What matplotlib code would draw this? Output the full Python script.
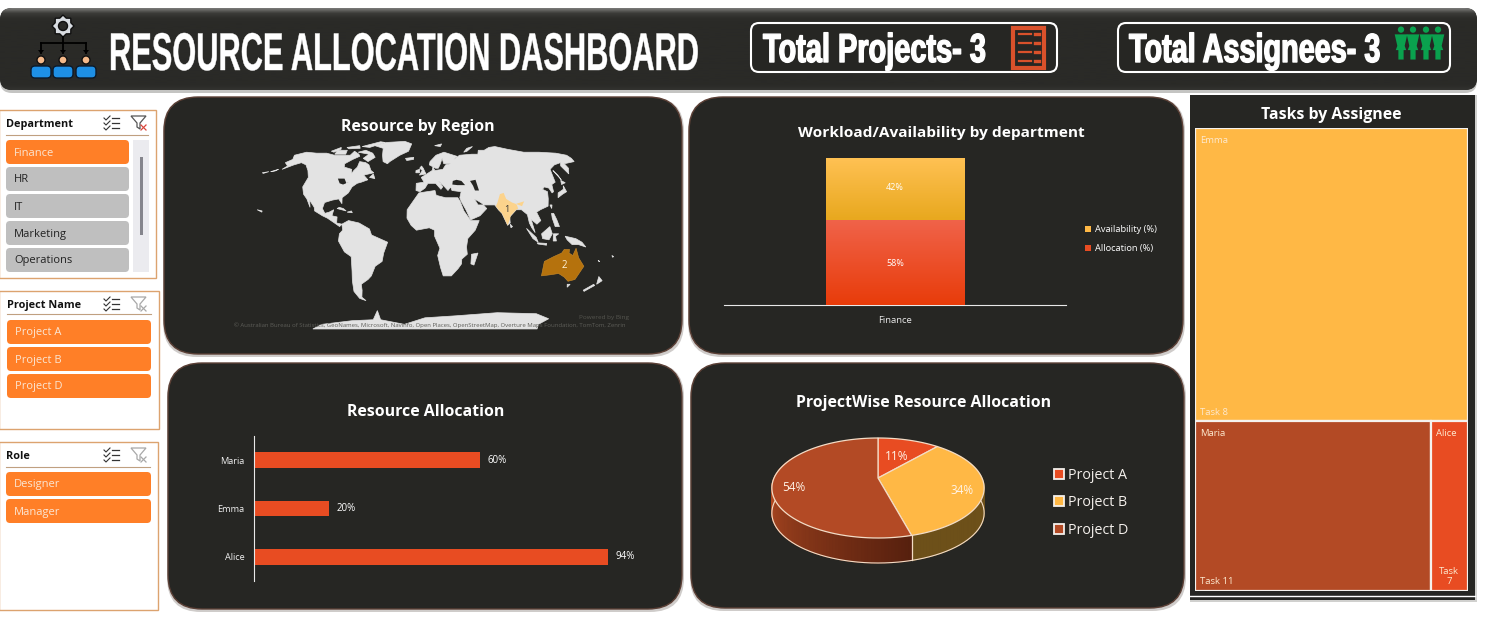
"""
Resource allocation dashboard, rebuilt as one matplotlib figure.
"""
import numpy as np
import matplotlib
matplotlib.use('Agg')
import matplotlib.pyplot as plt
from matplotlib.collections import PolyCollection
from matplotlib.colors import LinearSegmentedColormap, to_rgb
from matplotlib.lines import Line2D
from matplotlib.patches import FancyBboxPatch, Polygon, Rectangle, Circle
from matplotlib.patheffects import AbstractPathEffect
from matplotlib.transforms import Affine2D

W, H = 1486, 617
PANEL = '#262623'
ORANGE = '#ff7f27'
RED = '#e84c22'
GOLD = '#ffb845'
BROWN = '#b34a25'
SLICER_EDGE = '#dca36f'
BODY_FONT = 'Open Sans'
BIG_FONT = 'Liberation Sans'

departments = ['Finance', 'HR', 'IT', 'Marketing', 'Operations']
project_names = ['Project A', 'Project B', 'Project D']
roles = ['Designer', 'Manager']

finance_allocation = [58]
finance_availability = [42]

alloc_people = ['Maria', 'Emma', 'Alice']
alloc_values = [60, 20, 94]

pie_labels = ['Project A', 'Project B', 'Project D']
pie_values = [11.4, 34.4, 54.2]
pie_colors = [RED, GOLD, BROWN]

tree_people = ['Emma', 'Maria', 'Alice']
tree_tasks = ['Task 8', 'Task 11', 'Task\n7']
tree_values = [63.4, 31.7, 4.9]
tree_colors = [GOLD, BROWN, RED]

# map outlines, lon/lat
north_america = [(-166, 68), (-156, 71), (-141, 70), (-128, 70), (-115, 68), (-108, 68), (-95, 68), (-94, 72),
                 (-85, 69), (-82, 67), (-88, 64), (-94, 60), (-92, 57), (-82, 55), (-80, 51), (-79, 54), (-77, 57),
                 (-78, 62), (-70, 61), (-65, 59), (-60, 54), (-56, 52), (-66, 50), (-60, 46), (-66, 44), (-70, 43),
                 (-74, 40), (-76, 35), (-81, 31), (-80, 26), (-82, 28), (-84, 30), (-90, 29), (-97, 27), (-98, 22),
                 (-95, 18), (-91, 19), (-87, 21), (-88, 16), (-83, 15), (-83, 10), (-78, 9), (-80, 7), (-85, 10),
                 (-92, 14), (-97, 16), (-105, 20), (-106, 23), (-112, 29), (-110, 23), (-115, 30), (-120, 34),
                 (-124, 40), (-124, 48), (-130, 54), (-138, 59), (-146, 61), (-152, 59), (-160, 55), (-158, 58),
                 (-165, 61), (-161, 64)]
south_america = [(-78, 9), (-72, 12), (-62, 10), (-52, 5), (-50, 0), (-35, -6), (-39, -15), (-41, -22), (-48, -26),
                 (-53, -34), (-57, -37), (-65, -41), (-66, -46), (-69, -52), (-66, -55), (-72, -53), (-75, -47),
                 (-73, -38), (-71, -30), (-70, -18), (-76, -14), (-81, -5), (-80, 1), (-77, 4)]
greenland = [(-73, 78), (-60, 82), (-32, 83.5), (-20, 80), (-22, 72), (-32, 68), (-42, 62), (-44, 60), (-50, 62),
             (-54, 68), (-58, 75)]
eurasia = [(-9, 37), (-9, 43), (-1, 44), (-4, 48), (2, 51), (8, 54), (9, 57), (11, 54), (20, 55), (24, 59), (30, 60),
           (22, 60), (21, 65), (18, 60), (15, 56), (12, 56), (5, 59), (6, 62), (14, 68), (25, 71), (40, 67), (35, 64),
           (44, 68), (60, 69), (68, 69), (72, 73), (80, 73), (90, 76), (100, 77), (113, 74), (130, 71), (150, 71),
           (170, 70), (180, 68), (180, 65), (178, 62), (163, 60), (162, 56), (156, 51), (156, 58), (160, 61), (150, 59),
           (140, 55), (135, 44), (130, 42), (128, 36), (126, 35), (125, 39), (121, 40), (118, 38), (122, 36),
           (120, 30), (118, 24), (110, 21), (106, 19), (109, 12), (105, 9), (100, 13), (103, 2), (100, 6), (98, 10),
           (97, 17), (92, 21), (87, 21), (80, 15), (80, 10), (77.5, 8), (73, 18), (70, 21), (67, 25), (57, 25),
           (52, 28), (48, 30), (51, 25), (56, 25), (59, 22), (52, 16), (43, 12.6), (39, 21), (35, 28), (34, 31),
           (36, 36), (27, 37), (26, 40), (23, 37), (20, 40), (14, 45), (18, 40), (16, 38), (11, 43), (3, 43),
           (0, 39), (-5, 36)]
africa = [(-6, 35), (10, 37), (11, 33), (20, 31), (32, 31), (34, 28), (37, 20), (43, 12), (51, 12), (47, 4), (40, -3),
          (39, -10), (40, -16), (35, -20), (35, -24), (32, -28), (26, -34), (18, -34), (15, -27), (12, -17), (14, -11),
          (9, -1), (9, 4), (4, 6), (-8, 4), (-13, 8), (-17, 14), (-17, 21), (-10, 30)]
australia = [(114, -22), (122, -18), (129, -15), (131, -12), (136, -12), (136, -15), (140, -17), (142, -11), (146, -19),
             (153, -26), (150, -37), (144, -38.5), (138, -35), (131, -32), (124, -33), (115, -34)]
india = [(68, 24), (70, 21), (73, 18), (77.5, 8), (80, 13), (81, 16), (87, 21), (89, 22), (88, 26), (96, 28), (93, 24),
         (84, 27), (79, 30), (78, 35), (74, 34), (70, 27)]
antarctica = [(-180, -84), (-150, -78), (-100, -74), (-70, -73), (-58, -64), (-60, -73), (-30, -78), (0, -71), (40, -69),
              (90, -66), (140, -67), (165, -72), (165, -78), (180, -84)]
islands = [
    [(-80, 73), (-68, 70), (-62, 66), (-68, 62), (-76, 65), (-72, 69), (-88, 71)],  # baffin
    [(-90, 77), (-70, 83), (-62, 82), (-78, 76)],  # ellesmere
    [(-118, 73), (-105, 73), (-102, 69), (-116, 69)],  # victoria
    [(-125, 72), (-118, 76), (-115, 74), (-120, 71)],  # banks
    [(-110, 76), (-95, 78), (-90, 75), (-105, 74.5)],  # parry
    [(-59, 48), (-53, 47), (-56, 51)],  # newfoundland
    [(-84, 22), (-75, 20), (-78, 22), (-82, 23)],  # cuba
    [(-74, 19), (-69, 18.5), (-70, 20)],  # hispaniola
    [(-6, 50), (1, 51), (-2, 56), (-4, 58), (-6, 56), (-3, 54)],  # britain
    [(-10, 52), (-6, 52), (-6, 55), (-10, 54)],  # ireland
    [(-24, 65), (-14, 66), (-14, 64), (-22, 63)],  # iceland
    [(14, 78), (25, 80), (22, 77)],  # svalbard
    [(44, -16), (50, -15), (47, -25), (44, -24)],  # madagascar
    [(80, 9), (82, 7), (80.5, 6)],  # sri lanka
    [(130, 31), (136, 34), (141, 36), (141, 41), (139, 38), (132, 35)],  # honshu
    [(140, 42), (145, 43.5), (142, 45.5)],  # hokkaido
    [(95, 5.5), (104, -2), (106, -6), (101, -3)],  # sumatra
    [(109, 1), (117, 7), (119, 1), (116, -4), (110, -3)],  # borneo
    [(105, -6.5), (114, -7), (114, -8.5), (106, -7.5)],  # java
    [(120, 1), (125, 1), (122, -1), (123, -5), (120, -5)],  # sulawesi
    [(131, -1), (141, -3), (147, -6), (151, -10), (144, -8), (138, -8), (133, -4)],  # new guinea
    [(120, 18), (122, 18), (124, 13), (126, 7), (122, 7), (120, 14)],  # philippines
    [(145, -41), (148, -41), (147, -43.5)],  # tasmania
    [(172, -34.5), (178, -38), (175, -41)],  # nz north
    [(172, -41), (174, -42), (168, -47), (166, -46)],  # nz south
    [(120, 25), (122, 25), (121, 22)],  # taiwan
    [(51, 71), (58, 75), (68, 77), (56, 72)],  # novaya zemlya
    [(-160, 21), (-155, 20), (-155, 19)],  # hawaii
    [(142, 54), (143, 50), (143, 46)],  # sakhalin
    [(-178, 52), (-172, 53), (-176, 51.5)],  # aleutians
    [(-170, 53), (-164, 55), (-166, 53.5)],
    [(165, -21), (167, -22), (166, -22)],  # new caledonia
    [(177, -17), (179, -18), (178, -18.5)],  # fiji
]
inland_seas = [
    [(28, 42), (33, 41.5), (41, 41.5), (38, 45), (33, 46), (29, 45)],  # black sea
    [(47, 45), (53, 46), (54, 37), (50, 37), (49, 41)],  # caspian
    [(-92, 47), (-85, 47), (-81, 43), (-79, 44), (-84, 42), (-88, 43)],  # great lakes
]

# robinson table
rob_lat = np.arange(0, 95, 5)
rob_len = [1, .9986, .9954, .99, .9822, .973, .96, .9427, .9216, .8962, .8679, .835, .7986, .7597, .7186, .6732, .6213, .5722, .5322]
rob_y = [0, .062, .124, .186, .248, .31, .372, .434, .4958, .5571, .6176, .6769, .7346, .7903, .8435, .8936, .9394, .9761, 1]


def robinson(points):
    pts = np.array(points, dtype=float)
    lat = np.abs(pts[:, 1])
    xs = pts[:, 0] / 180 * np.interp(lat, rob_lat, rob_len)
    ys = np.sign(pts[:, 1]) * np.interp(lat, rob_lat, rob_y)
    return np.column_stack([xs, ys])


class StretchY(AbstractPathEffect):
    # no condensed font installed, so a wider one is set small and pulled up from the baseline
    def __init__(self, sy, stroke):
        super().__init__()
        self.sy = sy
        self.stroke = stroke

    def draw_path(self, renderer, gc, tpath, affine, rgbFace=None):
        gc0 = renderer.new_gc()
        gc0.copy_properties(gc)
        gc0.set_linewidth(self.stroke)
        gc0.set_foreground('white')
        renderer.draw_path(gc0, tpath, Affine2D().scale(1, self.sy) + affine, rgbFace)
        gc0.restore()


def poster_text(s, x, baseline, width, cap, stroke):
    t = bg.text(x, baseline, s, fontsize=20, fontweight='bold', color='white', va='baseline', family=BIG_FONT, zorder=6)
    got = t.get_window_extent(fig.canvas.get_renderer()).width
    size = 20 * width / got
    t.set_fontsize(size)
    t.set_path_effects([StretchY(cap / (0.716 * size * 100 / 72), stroke)])
    return t


def px_axes(x0, y0, x1, y1):
    a = fig.add_axes([x0 / W, 1 - y1 / H, (x1 - x0) / W, (y1 - y0) / H], zorder=2)
    a.patch.set_alpha(0)
    return a


def rbox(x0, y0, x1, y1, r, **kw):
    patch = FancyBboxPatch((x0 + r, y0 + r), x1 - x0 - 2 * r, y1 - y0 - 2 * r, boxstyle='round,pad=%s,rounding_size=%s' % (r, r), **kw)
    bg.add_patch(patch)
    return patch


def gradient(a, patch, extent, colors, zorder):
    cmap = LinearSegmentedColormap.from_list('g', colors)
    xl, yl = a.get_xlim(), a.get_ylim()
    im = a.imshow(np.linspace(0, 1, 200).reshape(-1, 1), extent=extent, aspect='auto', cmap=cmap, zorder=zorder)
    im.set_clip_path(patch)
    a.set_xlim(xl)
    a.set_ylim(yl)


def panel(x0, y0, x1, y1, r=34):
    rbox(x0 - 1, y0, x1 + 2, y1 + 3, r, fc='#cfccca', ec='none', zorder=1)
    rbox(x0, y0, x1, y1, r, fc=PANEL, ec='#5c4036', lw=1, zorder=2)


def checklist(x, y, col='#333333'):
    for i in range(3):
        yy = y + i * 5
        bg.plot([x, x + 2, x + 6], [yy, yy + 2, yy - 2], color=col, lw=0.8, zorder=6)
        bg.plot([x + 8, x + 15], [yy, yy], color=col, lw=0.9, zorder=6)


def funnel(x, y, col, xcol):
    bg.add_patch(Polygon([(x, y), (x + 15, y), (x + 9, y + 7), (x + 9, y + 13), (x + 6, y + 11), (x + 6, y + 7)], fc='white', ec=col, lw=0.9, zorder=6))
    bg.plot([x + 10, x + 15], [y + 9, y + 14], color=xcol, lw=0.9, zorder=6)
    bg.plot([x + 15, x + 10], [y + 9, y + 14], color=xcol, lw=0.9, zorder=6)


def slicer(title, items, box, header_y, first_y, x0, x1, selected, filter_cols):
    bg.add_patch(Rectangle((box[0], box[1]), box[2] - box[0], box[3] - box[1], fc='white', ec=SLICER_EDGE, lw=1, zorder=3))
    bg.text(x0, box[1] + 14.5, title, fontsize=7.8, fontweight='bold', color='#111111', va='center', family=BODY_FONT, zorder=6)
    bg.plot([x0, box[2] - 8], [header_y, header_y], color='#c0a080', lw=0.8, zorder=6)
    checklist(104, box[1] + 8)
    funnel(131, box[1] + 6, filter_cols[0], filter_cols[1])
    for i, name in enumerate(items):
        top = first_y + i * 27
        sel = name in selected
        rbox(x0, top, x1, top + 24, 4, fc=ORANGE if sel else '#bfbfbf', ec='none', zorder=5)
        bg.text(x0 + 8, top + 13, name, fontsize=8, va='center', color='#fbe6d3' if sel else '#222222', family=BODY_FONT, zorder=6)


def person(a, x, y, s, col):
    a.add_patch(Circle((x, y + 2.5 * s), 3 * s, fc=col, ec='none', zorder=6))
    a.add_patch(Polygon([(x - 6 * s, y + 7 * s), (x + 6 * s, y + 7 * s), (x + 3.5 * s, y + 18 * s), (x + 5 * s, y + 22 * s), (x + 2.5 * s, y + 22 * s),
                         (x + 2.5 * s, y + 31 * s), (x - 2.5 * s, y + 31 * s), (x - 2.5 * s, y + 22 * s), (x - 5 * s, y + 22 * s), (x - 3.5 * s, y + 18 * s)],
                        fc=col, ec='none', zorder=6))


fig = plt.figure(figsize=(W / 100, H / 100), dpi=100, facecolor='white')
bg = fig.add_axes([0, 0, 1, 1], zorder=0)
bg.set_xlim(0, W)
bg.set_ylim(H, 0)
bg.axis('off')

# header band
rbox(0, 10, 1477, 93, 12, fc='#c4c4c2', ec='none', zorder=1)
head = rbox(0, 8, 1477, 90, 12, fc='#2a2a27', ec='none', zorder=2)
gradient(bg, head, [0, 1477, 90, 8], ['#7a7a78', '#3c3c39', '#2d2d2a'] + ['#2a2a27'] * 14 + ['#333330'], 3)
poster_text('RESOURCE ALLOCATION DASHBOARD', 109, 70, 589, 38, 0.3)

# header icon
gear = np.linspace(0, 2 * np.pi, 17)[:-1]
bg.add_patch(Polygon([(63 + (11 if i % 2 == 0 else 8.5) * np.cos(t), 26 + (11 if i % 2 == 0 else 8.5) * np.sin(t)) for i, t in enumerate(gear)],
                     fc='#d9dde2', ec='#111111', lw=1, zorder=6))
bg.add_patch(Circle((63, 26), 4.5, fc='#2a2a27', ec='#111111', lw=1, zorder=7))
bg.plot([41, 86], [43, 43], color='black', lw=1.3, zorder=6)
for px in [41, 63, 86]:
    bg.plot([px, px], [37 if px == 63 else 43, 53], color='black', lw=1.3, zorder=6)
    bg.add_patch(Polygon([(px - 3, 50), (px + 3, 50), (px, 54)], fc='black', ec='none', zorder=6))
    bg.add_patch(Circle((px, 60), 4, fc='#f4b98a', ec='#111111', lw=1, zorder=6))
    rbox(px - 10, 66, px + 10, 78, 4, fc='#1e90e6', ec='#0b1a2a', lw=1, zorder=6)

# kpi cards
rbox(751, 23, 1057, 72, 8, fc='#262623', ec='white', lw=1.5, zorder=5)
rbox(1118, 23, 1450, 72, 8, fc='#262623', ec='white', lw=1.5, zorder=5)
poster_text('Total Projects- 3', 763, 62, 223, 29, 1.0)
poster_text('Total Assignees- 3', 1129, 62, 251, 29, 1.0)
bg.add_patch(Rectangle((1013, 28), 31, 40, fc='none', ec='#d9512b', lw=3, zorder=6))
for i in range(4):
    yy = 34 + i * 9
    bg.plot([1019, 1031], [yy, yy], color='#d9512b', lw=1.6, zorder=6)
    bg.plot([1035, 1039], [yy, yy], color='#d9512b', lw=2.4, zorder=6)
for px in [1401, 1413, 1426, 1438]:
    person(bg, px, 27, 1.05, '#0aa14e')

# slicers
slicer('Department', departments, (-1, 110, 156, 278), 135, 140, 6, 129, ['Finance'], ('#555555', '#d9443a'))
bg.add_patch(Rectangle((133, 140), 16, 132, fc='#ebebef', ec='none', zorder=5))
bg.add_patch(Rectangle((140, 157), 2.5, 78, fc='#85858c', ec='none', zorder=6))
slicer('Project Name', project_names, (-1, 291, 159, 429), 314, 320, 7, 151, project_names, ('#a8a8a8', '#a8a8a8'))
slicer('Role', roles, (-1, 442, 158, 610), 467, 472, 6, 151, roles, ('#a8a8a8', '#a8a8a8'))

# chart panels
panel(164, 97, 682, 354)
panel(689, 97, 1183, 354)
panel(168, 363, 682, 609)
panel(691, 363, 1184, 608)
bg.add_patch(Rectangle((1190, 95), 287, 507, fc='#d0d0ce', ec='none', zorder=1))
bg.add_patch(Rectangle((1190, 95), 285, 505, fc=PANEL, ec='none', zorder=2))
bg.plot([1190, 1475], [596, 596], color='white', lw=1, zorder=3)

title_kw = dict(fontsize=11.4, fontweight='bold', color='white', ha='center', va='center', family=BODY_FONT, zorder=6)
bg.text(418, 127, 'Resource by Region', **title_kw)
bg.text(941, 133, 'Workload/Availability by department', fontsize=11.1, fontweight='bold', color='white', ha='center', va='center', family=BODY_FONT, zorder=6)
bg.text(426, 412, 'Resource Allocation', **title_kw)
bg.text(924, 403, 'ProjectWise Resource Allocation', **title_kw)
bg.text(1331, 115, 'Tasks by Assignee', **title_kw)

# map
map_ax = px_axes(232.4, 138, 617.6, 332)
map_ax.set_xlim(-1, 1)
map_ax.set_ylim(-1, 1)
map_ax.axis('off')
LAND = '#e3e3e3'
for shape in [north_america, south_america, greenland, eurasia, africa, antarctica] + islands:
    map_ax.add_patch(Polygon(robinson(shape), fc=LAND, ec=LAND, lw=0.5))
for shape in inland_seas:
    map_ax.add_patch(Polygon(robinson(shape), fc=PANEL, ec='none', zorder=2))
map_ax.add_patch(Polygon(robinson(india), fc='#fcd38c', ec='none', zorder=3))
map_ax.add_patch(Polygon(robinson(australia), fc='#b5720d', ec='#c98a2a', lw=0.4, zorder=3))
lbl = robinson([(78, 21), (134, -25)])
map_ax.text(lbl[0, 0], lbl[0, 1], '1', fontsize=6.5, ha='center', va='center', color='#333333', family=BODY_FONT, zorder=4)
map_ax.text(lbl[1, 0], lbl[1, 1], '2', fontsize=7, ha='center', va='center', color='#fff2d8', family=BODY_FONT, zorder=4)
bg.text(629, 317, 'Powered by Bing', fontsize=4.6, ha='right', va='center', color='#55554f', family=BODY_FONT, zorder=6)
fig.text(430 / W, 1 - 325 / H, '© Australian Bureau of Statistics, GeoNames, Microsoft, Navinfo, Open Places, OpenStreetMap, Overture Maps Foundation, TomTom, Zenrin',
         fontsize=4.33, ha='center', va='center', color='#5d5d58', family=BODY_FONT, zorder=5)

# workload stacked bar
wl = px_axes(724, 158, 1066, 305)
wl.set_xlim(-0.5, 0.5)
wl.set_ylim(0, 100)
b1 = wl.bar(['Finance'], finance_allocation, width=0.404, color=RED, label='Allocation (%)')
b2 = wl.bar(['Finance'], finance_availability, width=0.404, bottom=finance_allocation, color=GOLD, label='Availability (%)')
gradient(wl, b1[0], [-0.202, 0.202, 0, finance_allocation[0]], ['#f0634a', '#e83c0a'], 3)
gradient(wl, b2[0], [-0.202, 0.202, finance_allocation[0], 100], ['#ffc153', '#e8a81e'], 3)
wl.text(0, finance_allocation[0] / 2 - 0.5, '%d%%' % finance_allocation[0], color='white', fontsize=6.5, ha='center', va='center', family=BODY_FONT, zorder=5)
wl.text(0, finance_allocation[0] + finance_availability[0] * 0.48 + 1.5, '%d%%' % finance_availability[0], color='white', fontsize=6.5, ha='center', va='center', family=BODY_FONT, zorder=5)
for s in ['top', 'left', 'right']:
    wl.spines[s].set_visible(False)
wl.spines['bottom'].set_color('#e8e8e8')
wl.set_yticks([])
wl.tick_params(axis='x', length=0, pad=8, labelsize=6.8, colors='#e8e8e8')
for t in wl.get_xticklabels():
    t.set_family(BODY_FONT)
leg = wl.legend(handles=[Rectangle((0, 0), 1, 1, fc=GOLD), Rectangle((0, 0), 1, 1, fc=RED)], labels=['Availability (%)', 'Allocation (%)'],
                loc='center left', bbox_to_anchor=(1085 / W, 1 - 239 / H), bbox_transform=fig.transFigure, frameon=False,
                fontsize=6.7, handlelength=0.65, handleheight=0.65, handletextpad=0.4, labelspacing=1.05, borderpad=0, borderaxespad=0)
for t in leg.get_texts():
    t.set_color('white')
    t.set_family(BODY_FONT)

# allocation bars
ra = px_axes(254, 436, 631, 581)
y_pos = np.arange(len(alloc_people))
ra.barh(y_pos, alloc_values, height=0.33, color=RED)
ra.set_xlim(0, 100)
ra.set_ylim(2.5, -0.5)
ra.set_yticks(y_pos)
ra.set_yticklabels(alloc_people, fontsize=6.6, color='#f0f0f0', family=BODY_FONT)
ra.set_xticks([])
ra.tick_params(axis='y', length=0, pad=7)
for s in ['top', 'bottom', 'right']:
    ra.spines[s].set_visible(False)
ra.spines['left'].set_color('#e8e8e8')
for yy, v in zip(y_pos, alloc_values):
    ra.text(v + 1.9, yy, '%d%%' % v, color='white', fontsize=7, va='center', family=BODY_FONT)

# 3d pie, kept in figure pixels through its own axes
pie = px_axes(760, 430, 1000, 575)
pie.set_xlim(760, 1000)
pie.set_ylim(575, 430)
pie.axis('off')
PIE_CX, PIE_CY, PIE_A, PIE_B, PERSP, DEPTH = 878, 478, 104, 48, 0.2, 25


def pie_xy(theta, r=1.0):
    # theta in degrees clockwise from twelve o'clock
    t = np.radians(theta)
    u, v = r * np.sin(t), -r * np.cos(t)
    w = 1 - PERSP * v
    return PIE_CX + PIE_A * u / w, PIE_CY + PIE_B * v / w


edges = np.concatenate([[0], np.cumsum(pie_values)]) / np.sum(pie_values) * 360
RIM = '#f3dcc6'
quads, quad_cols = [], []
theta = np.arange(60, 300, 1.5)
for t0, t1 in zip(theta[:-1], theta[1:]):
    x0, y0 = pie_xy(t0)
    x1, y1 = pie_xy(t1)
    quads.append([(x0, y0), (x1, y1), (x1, y1 + DEPTH), (x0, y0 + DEPTH)])
    if t0 < edges[2]:
        quad_cols.append('#6d5019')
    else:
        f = min((t0 - edges[2]) / 100, 1)
        quad_cols.append(tuple((1 - f) * np.array(to_rgb('#57200e')) + f * np.array(to_rgb('#b04a22'))))
pie.add_collection(PolyCollection(quads, facecolors=quad_cols, edgecolors=quad_cols, linewidths=0.8, zorder=1))
bx, by = pie_xy(theta)
pie.plot(bx, by + DEPTH, color=RIM, lw=0.8, zorder=2)
ex, ey = pie_xy(edges[2])
pie.plot([ex, ex], [ey, ey + DEPTH], color=RIM, lw=0.9, zorder=2)
for i, (a0, a1) in enumerate(zip(edges[:-1], edges[1:])):
    arc = np.linspace(a0, a1, 80)
    xs, ys = pie_xy(arc)
    pts = [(PIE_CX, PIE_CY)] + list(zip(xs, ys))
    pie.add_patch(Polygon(pts, fc=pie_colors[i], ec=RIM, lw=0.9, zorder=3))
for i, r in enumerate([0.55, 0.8, 0.8]):
    lx, ly = pie_xy((edges[i] + edges[i + 1]) / 2, r)
    pie.text(lx, ly + (1 if i == 0 else 4), '%d%%' % round(pie_values[i]), color='#fff4e8', fontsize=8.5, ha='center', va='center', family=BODY_FONT, zorder=5)
handles = [Line2D([], [], ls='', marker='s', ms=7, mfc=c, mec='#f4f0ec', mew=1.3) for c in pie_colors]
leg = pie.legend(handles, pie_labels, loc='center left', bbox_to_anchor=(1054 / W, 1 - 503 / H), bbox_transform=fig.transFigure, frameon=False,
                 fontsize=10.3, handlelength=0.7, handletextpad=0.3, labelspacing=0.87, borderpad=0, borderaxespad=0)
for t in leg.get_texts():
    t.set_color('#f4f0ec')
    t.set_family(BODY_FONT)

# treemap, first item takes the top row, the rest share the bottom one
tm = px_axes(1195, 128.5, 1468, 590.5)
tm.set_xlim(0, 1)
tm.set_ylim(1, 0)
tm.axis('off')
total = sum(tree_values)
top_h = tree_values[0] / total
rest = sum(tree_values[1:])
cells = [(0, 0, 1, top_h)]
left = 0
for v in tree_values[1:]:
    cells.append((left, top_h, v / rest, 1 - top_h))
    left += v / rest
for (cx, cy, cw, ch), name, task, col in zip(cells, tree_people, tree_tasks, tree_colors):
    tm.add_patch(Rectangle((cx, cy), cw, ch, fc=col, ec='#f5f2ee', lw=1.6))
    tm.text(cx + 5 / 273, cy + 12 / 462, name, color='#fde9cf', fontsize=6.8, va='center', family=BODY_FONT)
    multi = '\n' in task
    tm.text(cx + (cw / 2 - 0.002 if multi else 5 / 273), cy + ch - 4.5 / 462, task, color='#fde9cf', fontsize=6.8, va='bottom', ha='center' if multi else 'left', family=BODY_FONT)

fig.savefig('out.png', dpi=100)
